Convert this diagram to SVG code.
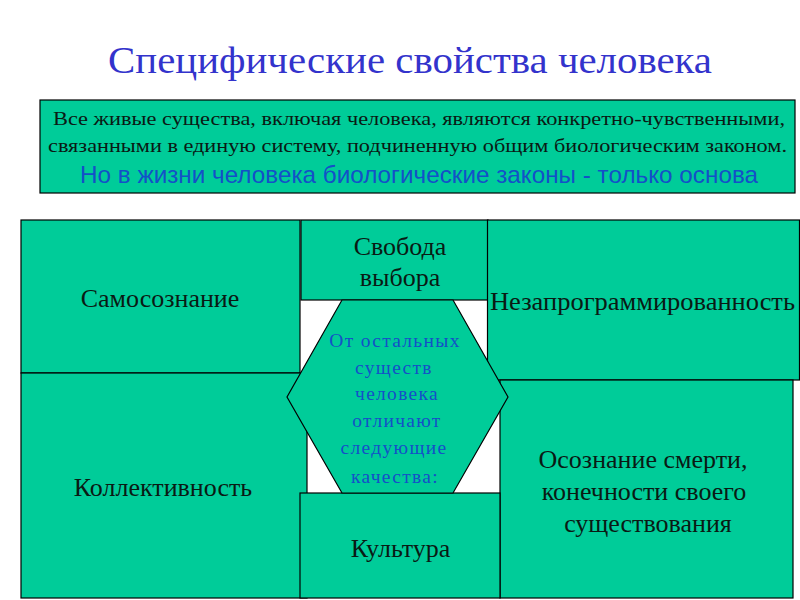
<svg xmlns="http://www.w3.org/2000/svg" width="800" height="600" viewBox="0 0 800 600">
  <style>
    .box { fill: #00CC99; stroke: #000; stroke-width: 1.2; }
    .lbl { font-family: "Liberation Serif", "Times New Roman", serif; font-size: 26px; fill: #0a1a14; text-anchor: middle; }
    .hex { font-family: "Liberation Serif", "Times New Roman", serif; font-size: 19.5px; fill: #1450c8; text-anchor: middle; letter-spacing: 1.3px; }
    .intro { font-family: "Liberation Serif", "Times New Roman", serif; font-size: 19px; fill: #0a1a14; }
  </style>
  <rect width="800" height="600" fill="#ffffff"/>
  <text id="title" x="410" y="73" font-family="Liberation Serif, Times New Roman, serif" font-size="38" fill="#3333CC" text-anchor="middle" textLength="604" lengthAdjust="spacingAndGlyphs">Специфические свойства человека</text>

  <g id="intro">
    <rect class="box" x="40" y="100" width="755" height="93"/>
    <text class="intro" x="53" y="125" textLength="732" lengthAdjust="spacingAndGlyphs">Все живые существа, включая человека, являются конкретно-чувственными,</text>
    <text class="intro" x="48" y="151.5" textLength="739" lengthAdjust="spacingAndGlyphs">связанными в единую систему, подчиненную общим биологическим законом.</text>
    <text x="80" y="183" font-family="Liberation Sans, Arial, sans-serif" font-size="24" fill="#1450c8" textLength="678" lengthAdjust="spacingAndGlyphs">Но в жизни человека биологические законы - только основа</text>
  </g>

  <g id="samosoznanie">
    <rect class="box" x="21" y="220" width="279" height="153"/>
    <text class="lbl" x="160" y="307">Самосознание</text>
  </g>
  <g id="kollektivnost">
    <rect class="box" x="21" y="373" width="286" height="225"/>
    <text class="lbl" x="163" y="496">Коллективность</text>
  </g>
  <g id="svoboda">
    <rect class="box" x="301" y="220" width="187" height="80"/>
    <text class="lbl" x="400" y="255" font-size="25">Свобода</text>
    <text class="lbl" x="400" y="286" font-size="25">выбора</text>
  </g>
  <g id="nezaprog">
    <rect class="box" x="487.5" y="220" width="312" height="160"/>
    <text class="lbl" x="642.5" y="310" textLength="305" lengthAdjust="spacingAndGlyphs">Незапрограммированность</text>
  </g>
  <g id="osoznanie">
    <rect class="box" x="500" y="380" width="293" height="218"/>
    <text class="lbl" x="643" y="468">Осознание смерти,</text>
    <text class="lbl" x="644" y="500">конечности своего</text>
    <text class="lbl" x="648" y="532">существования</text>
  </g>
  <g id="kultura">
    <rect class="box" x="300" y="493" width="200" height="105"/>
    <text class="lbl" x="400.5" y="557">Культура</text>
  </g>

  <g id="center">
    <polygon class="box" points="342,300 453,300 508,397 453,493 342,493 287,397"/>
    <text class="hex" x="395" y="347">От остальных</text>
    <text class="hex" x="394" y="373.5">существ</text>
    <text class="hex" x="397" y="400">человека</text>
    <text class="hex" x="397" y="427">отличают</text>
    <text class="hex" x="394" y="453.5">следующие</text>
    <text class="hex" x="395" y="483">качества:</text>
  </g>

  <g id="connectors"></g>
</svg>
